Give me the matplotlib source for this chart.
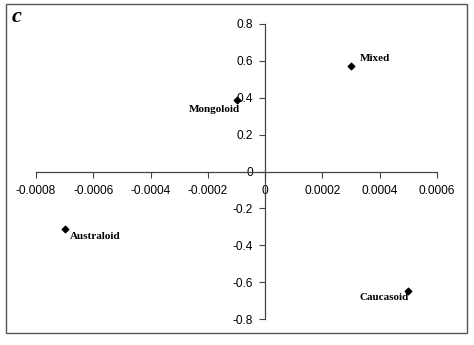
import matplotlib
matplotlib.use("Agg")
import matplotlib.pyplot as plt
from matplotlib.patches import Rectangle

groups = ["Mixed", "Mongoloid", "Australoid", "Caucasoid"]
x_vals = [0.0003, -0.0001, -0.0007, 0.0005]
y_vals = [0.57, 0.39, -0.31, -0.65]
x_ticks = [-0.0008, -0.0006, -0.0004, -0.0002, 0, 0.0002, 0.0004, 0.0006]
x_tick_labels = ["-0.0008", "-0.0006", "-0.0004", "-0.0002", "0", "0.0002", "0.0004", "0.0006"]
y_ticks = [-0.8, -0.6, -0.4, -0.2, 0, 0.2, 0.4, 0.6, 0.8]
y_tick_labels = ["-0.8", "-0.6", "-0.4", "-0.2", "0", "0.2", "0.4", "0.6", "0.8"]

W, H = 474, 345
fig = plt.figure(figsize=(W / 100, H / 100), dpi=100)
fig.patch.set_facecolor("white")

# outer frame
fig.add_artist(Rectangle((6 / W, (H - 333) / H), 461 / W, 329 / H,
                         transform=fig.transFigure, fill=False,
                         edgecolor="#555555", linewidth=1.0))

ax = fig.add_axes([36 / W, (H - 319) / H, 401 / W, 295 / H])
ax.set_xlim(-0.0008, 0.0006)
ax.set_ylim(-0.8, 0.8)
ax.patch.set_alpha(0)

for s in ["top", "right"]:
    ax.spines[s].set_visible(False)
ax.spines["left"].set_position(("data", 0))
ax.spines["bottom"].set_position(("data", 0))
for s in ["left", "bottom"]:
    ax.spines[s].set_color("#444444")
    ax.spines[s].set_linewidth(0.9)

tick_font = dict(family=["Liberation Sans", "DejaVu Sans"], size=8.6)
ax.set_xticks(x_ticks)
ax.set_xticklabels(x_tick_labels, **tick_font)
ax.set_yticks(y_ticks)
ax.set_yticklabels(y_tick_labels, **tick_font)
ax.tick_params(axis="x", direction="out", length=4, width=0.8, color="#444444", pad=6)
ax.tick_params(axis="y", direction="out", length=4, width=0.8, color="#444444", pad=5)

ax.scatter(x_vals, y_vals, marker="D", s=11, color="black", zorder=3)

label_font = dict(family=["Liberation Serif", "DejaVu Serif"], weight="bold", size=8)
offsets = {
    "Mixed": (9, 8, "left", "center"),
    "Mongoloid": (-22, -10, "center", "center"),
    "Australoid": (5, -8, "left", "center"),
    "Caucasoid": (-24, -6, "center", "center"),
}
for g, xv, yv in zip(groups, x_vals, y_vals):
    dx, dy, ha, va = offsets[g]
    ax.annotate(g, (xv, yv), xytext=(dx, dy), textcoords="offset pixels",
                ha=ha, va=va, **label_font)

fig.text(12 / W, 1 - 17 / H, "c", family=["Liberation Serif", "DejaVu Serif"],
         style="italic", weight="bold", size=16, ha="left", va="center")

fig.savefig("out.png", dpi=100)
